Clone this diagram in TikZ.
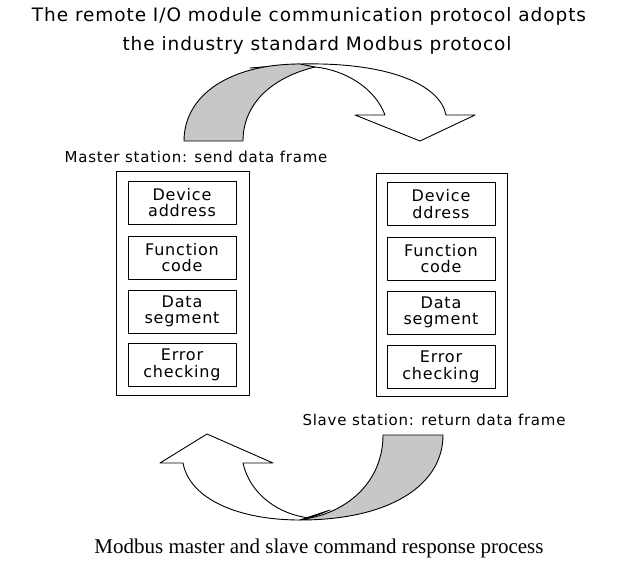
\documentclass[tikz,border=0pt]{standalone}
\usepackage{fontspec}
\setmainfont{DejaVu Sans}[LetterSpace=5]
\newfontfamily\capfont{Liberation Serif}
\begin{document}
\begin{tikzpicture}[x=1pt,y=-1pt,line join=round,
  frame/.style={draw,line width=0.8pt},
  fld/.style={draw,line width=0.8pt,minimum width=108pt,minimum height=43pt,align=center,font=\fontsize{16}{16.5}\selectfont,inner sep=1pt},
  lbl/.style={font=\fontsize{15}{18}\selectfont},
  ttl/.style={font=\fontsize{18.5}{20}\selectfont},
  arr/.style={draw,line width=0.9pt},
  gray/.style={fill=black!22}]
\useasboundingbox (0,0) rectangle (634,570);
\node[ttl] (t1) at (309,16) {The remote I/O module communication protocol adopts};
\node[ttl] (t2) at (317,45) {the industry standard Modbus protocol};
% top arrow
\path[arr,fill=white] (250,68) -- (300,64) .. controls (390,62) and (440,85) .. (446,115) -- (475,115) -- (420,141) -- (355,115) -- (385,115) .. controls (375,88) and (345,70) .. (315,67) -- cycle;
\path[arr,gray] (184,141) .. controls (184,95) and (230,64) .. (300,64) -- (315,67) .. controls (270,78) and (243,105) .. (243,141) -- cycle;
\node[lbl] (ms) at (196,157) {Master station: send data frame};
% left frame
\node[frame,minimum width=133pt,minimum height=224pt] (L) at (182.5,283) {};
\node[fld] (l1) at (182,202.5) {Device\\address};
\node[fld] (l2) at (182,257.5) {Function\\code};
\node[fld] (l3) at (182,311.5) {Data\\segment};
\node[fld] (l4) at (182,365) {Error\\checking};
% right frame
\node[frame,minimum width=131pt,minimum height=223pt] (R) at (441.5,284.5) {};
\node[fld] (r1) at (441,204) {Device\\ddress};
\node[fld] (r2) at (441,258.5) {Function\\code};
\node[fld] (r3) at (441,312.5) {Data\\segment};
\node[fld] (r4) at (441,367) {Error\\checking};
\node[lbl] (ss) at (434,420) {Slave station: return data frame};
% bottom arrow
\path[arr,fill=white] (330,510) -- (300,520) .. controls (240,520) and (190,500) .. (183,463) -- (160,463) -- (207,434) -- (273,463) -- (243,463) .. controls (250,495) and (280,515) .. (310,518) -- cycle;
\path[arr,gray] (383,435) -- (443,435) .. controls (443,485) and (390,520) .. (300,520) -- (310,518) .. controls (350,510) and (383,480) .. (383,435) -- cycle;
\node[font=\capfont\fontsize{21}{22}\selectfont] (cap) at (319,548) {Modbus master and slave command response process};
\end{tikzpicture}
\end{document}
